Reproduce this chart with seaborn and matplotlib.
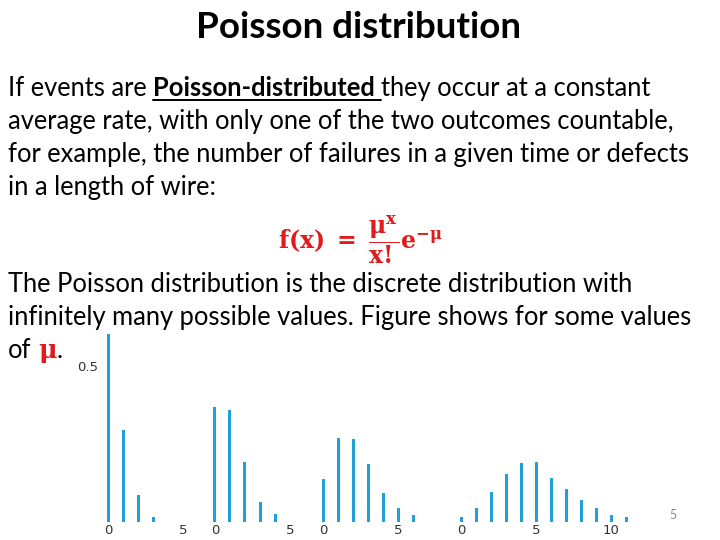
import numpy as np
import seaborn as sns
import matplotlib.pyplot as plt
from matplotlib.lines import Line2D

# values
k_05 = [0, 1, 2, 3]
p_05 = [0.605, 0.296, 0.086, 0.015]
k_1 = [0, 1, 2, 3, 4]
p_1 = [0.370, 0.358, 0.193, 0.064, 0.026]
k_2 = [0, 1, 2, 3, 4, 5, 6]
p_2 = [0.138, 0.270, 0.266, 0.186, 0.093, 0.044, 0.021]
k_5 = [0, 1, 2, 3, 4, 5, 6, 7, 8, 9, 10, 11]
p_5 = [0.016, 0.044, 0.096, 0.154, 0.189, 0.193, 0.141, 0.105, 0.070, 0.044, 0.022, 0.015]

panels = [(k_05, p_05, [0, 5], 5.5), (k_1, p_1, [0, 5], 5.5),
          (k_2, p_2, [0, 5], 6.5), (k_5, p_5, [0, 5, 10], 11.5)]
zero_px = [108, 215, 323, 461]

sns.set_style('white')
plt.rcParams['font.family'] = ['Lato', 'DejaVu Sans']
plt.rcParams['mathtext.fontset'] = 'dejavuserif'

W, H = 720, 540
fig = plt.figure(figsize=(7.2, 5.4), dpi=100)
renderer = fig.canvas.get_renderer()

BLUE = '#1fa0d6'
RED = '#e01b1b'
unit = 15.0
base_px = 521.7
yscale = 311.0
ytop = 0.62

for i, (k, p, ticks, xmax) in enumerate(panels):
    left = zero_px[i] - unit * 0.5
    width = unit * (xmax + 0.5)
    ax = fig.add_axes([left / W, (H - base_px) / H, width / W, ytop * yscale / H])
    sns.barplot(x=k, y=p, native_scale=True, width=0.2, color=BLUE,
                saturation=1, errorbar=None, linewidth=0, ax=ax)
    ax.set_xlim(-0.5, xmax)
    ax.set_ylim(0, ytop)
    ax.set_xticks(ticks)
    ax.set_xticklabels([str(t) for t in ticks])
    if i == 0:
        ax.set_yticks([0.5])
        ax.set_yticklabels(['0.5'])
    else:
        ax.set_yticks([])
    ax.tick_params(length=0, labelsize=9.5, labelcolor='#333333', pad=2)
    for lab in ax.get_xticklabels() + ax.get_yticklabels():
        lab.set_fontfamily('DejaVu Sans')
    ax.set_xlabel('')
    ax.set_ylabel('')
    sns.despine(ax=ax, left=True, bottom=True)
    ax.patch.set_alpha(0)

# slide text
fig.text(358 / W, 1 - 28 / H, 'Poisson distribution', ha='center', va='center',
         fontsize=26.5, fontweight='bold', color='black')

BODY = 18.4


def space_w(size, weight='normal'):
    a = fig.text(0, 0, 'x x', fontsize=size, fontweight=weight)
    b = fig.text(0, 0, 'xx', fontsize=size, fontweight=weight)
    w = a.get_window_extent(renderer).width - b.get_window_extent(renderer).width
    a.remove()
    b.remove()
    return w


def draw_line(parts, y_px, x_px=8, size=BODY):
    x = x_px
    spans = []
    for j, (txt, kw) in enumerate(parts):
        if j > 0:
            x += space_w(size, kw.get('fontweight', 'normal'))
        t = fig.text(x / W, 1 - y_px / H, txt, fontsize=size, va='baseline',
                     color='black', **kw)
        bb = t.get_window_extent(renderer)
        spans.append((x, bb.x1))
        x = bb.x1
    return spans


spans = draw_line([('If events are', {}),
                   ('Poisson-distributed', {'fontweight': 'bold'}),
                   ('they occur at a constant', {})], 96)
x0, x1 = spans[1]
x1 += space_w(BODY, 'bold')
fig.add_artist(Line2D([x0 / W, x1 / W], [1 - 99.5 / H, 1 - 99.5 / H],
                      color='black', lw=1.4))
draw_line([('average rate, with only one of the two outcomes countable,', {})], 129)
draw_line([('for example, the number of failures in a given time or defects', {})], 162)
draw_line([('in a length of wire:', {})], 195)

fig.text(360 / W, 1 - 240 / H,
         r'$\mathbf{f(x)}\ \mathbf{=}\ \dfrac{\mathbf{\mu^x}}{\mathbf{x!}}\mathbf{e^{-\mu}}$',
         ha='center', va='center', fontsize=17, color=RED)

draw_line([('The Poisson distribution is the discrete distribution with', {})], 292)
draw_line([('infinitely many possible values. Figure shows for some values', {})], 325)
x = 8
t = fig.text(x / W, 1 - 358 / H, 'of', fontsize=BODY, va='baseline', color='black')
x = t.get_window_extent(renderer).x1 + space_w(BODY)
t = fig.text(x / W, 1 - 358 / H, 'μ', fontsize=BODY, va='baseline',
             fontweight='bold', color=RED, family=['DejaVu Serif'])
x = t.get_window_extent(renderer).x1
fig.text(x / W, 1 - 358 / H, '.', fontsize=BODY, va='baseline', color='black')

fig.text(673 / W, 1 - 515 / H, '5', fontsize=9, color='#888888',
         ha='center', va='center')

fig.savefig('out.png', dpi=100)
